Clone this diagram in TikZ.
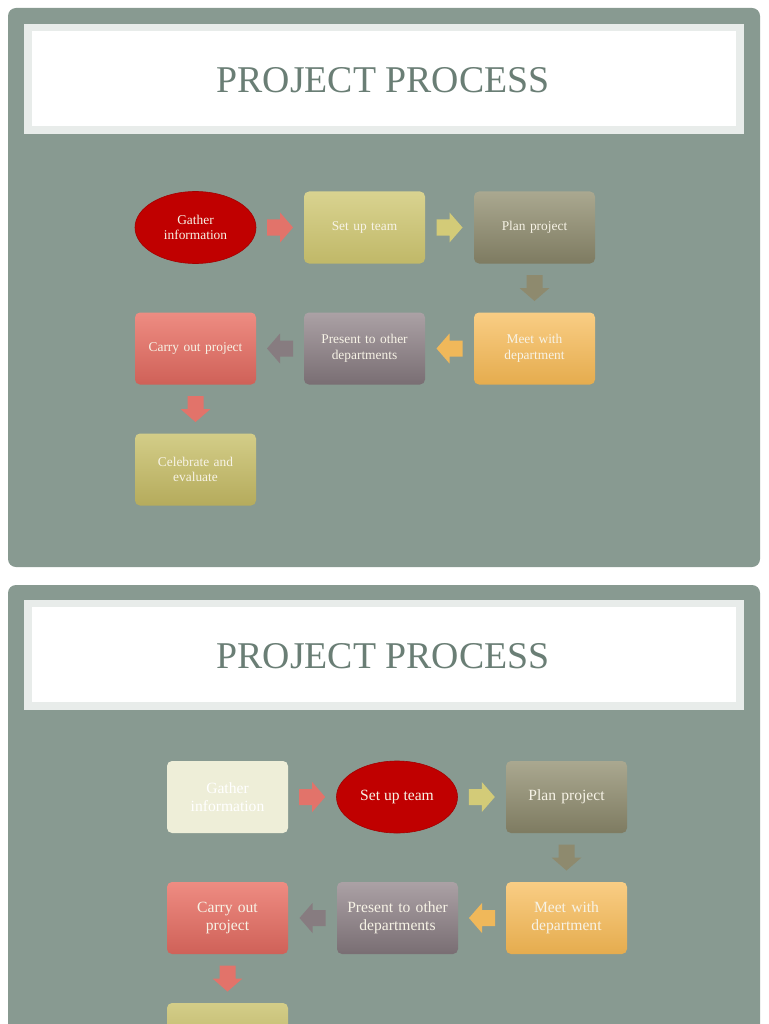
\documentclass[tikz,border=0pt]{standalone}
\usepackage{fontspec}
\setmainfont{Liberation Serif}
\usetikzlibrary{calc,shapes.geometric}
\definecolor{slidebg}{HTML}{889A91}
\definecolor{titleframe}{HTML}{E8ECEA}
\definecolor{titletext}{HTML}{6A7E75}
\definecolor{nodetext}{HTML}{F7F3E6}
\definecolor{dred}{HTML}{C00000}
\definecolor{ygT}{HTML}{D9D390}\definecolor{ygB}{HTML}{C0B868}
\definecolor{plT}{HTML}{AAA890}\definecolor{plB}{HTML}{7E7B61}
\definecolor{meT}{HTML}{F9CD84}\definecolor{meB}{HTML}{E5AC4E}
\definecolor{prT}{HTML}{ABA1A5}\definecolor{prB}{HTML}{796E73}
\definecolor{caT}{HTML}{EE8C82}\definecolor{caB}{HTML}{CF6158}
\definecolor{ceT}{HTML}{D3CD88}\definecolor{ceB}{HTML}{B5AB5C}
\definecolor{pale}{HTML}{EEEED8}
\definecolor{arRed}{HTML}{E2736A}
\definecolor{arYel}{HTML}{D3CB78}
\definecolor{arPlan}{HTML}{8E8A6E}
\definecolor{arOra}{HTML}{F0B85A}
\definecolor{arMau}{HTML}{877C80}
\tikzset{
  box/.style={rectangle, rounded corners=5pt, minimum width=121pt, minimum height=72pt,
    inner sep=0pt, text width=112pt, align=center, text=nodetext},
  oval/.style={ellipse, minimum width=121pt, minimum height=72pt, inner sep=0pt,
    fill=dred, draw=dred!85!black, line width=0.6pt, text=nodetext, align=center},
  smallfont/.style={font=\fontsize{13.4}{15.5}\selectfont},
  bigfont/.style={font=\fontsize{15.6}{18}\selectfont},
  titlefont/.style={font=\fontsize{37.8}{40}\selectfont, text=titletext},
  blockarrow/.pic={\path[pic actions] (-13,-8) -- (0,-8) -- (0,-15) -- (13,0) -- (0,15) -- (0,8) -- (-13,8) -- cycle;}
}
\begin{document}
\begin{tikzpicture}[x=1pt,y=-1pt]
\useasboundingbox (0,0) rectangle (768,1024);
\clip (0,0) rectangle (768,1024);
\fill[white] (0,0) rectangle (768,1024);
% slides
\fill[slidebg, rounded corners=8pt] (8,8) rectangle (760,567);
\fill[slidebg, rounded corners=8pt] (8,585) rectangle (760,1060);
% title boxes
\fill[titleframe] (24,24) rectangle (744,134);
\fill[white] (32,31) rectangle (736,126);
\node[titlefont] (t1) at (383,80) {PROJECT PROCESS};
\fill[titleframe] (24,600) rectangle (744,710);
\fill[white] (32,607) rectangle (736,702);
\node[titlefont] (t2) at (383,656) {PROJECT PROCESS};

% ---- slide 1
\node[oval, smallfont] (g1) at (195.5,227.5) {Gather\\information};
\node[box, smallfont, top color=ygT, bottom color=ygB] (s1) at (364.5,227.5) {Set up team};
\node[box, smallfont, top color=plT, bottom color=plB] (p1) at (534.5,227.5) {Plan project};
\node[box, smallfont, top color=meT, bottom color=meB] (m1) at (534.5,348.5) {Meet with\\department};
\node[box, smallfont, top color=prT, bottom color=prB] (r1) at (364.5,348.5) {Present to other\\departments};
\node[box, smallfont, top color=caT, bottom color=caB] (c1) at (195.5,348.5) {Carry out project};
\node[box, smallfont, top color=ceT, bottom color=ceB] (e1) at (195.5,469.5) {Celebrate and\\evaluate};

\pic[fill=arRed] at ($(g1.east)!0.5!(s1.west)$) {blockarrow};
\pic[fill=arYel] at ($(s1.east)!0.5!(p1.west)$) {blockarrow};
\pic[fill=arPlan, rotate=-90] at ($(p1.south)!0.5!(m1.north)$) {blockarrow};
\pic[fill=arOra, rotate=180] at ($(m1.west)!0.5!(r1.east)$) {blockarrow};
\pic[fill=arMau, rotate=180] at ($(r1.west)!0.5!(c1.east)$) {blockarrow};
\pic[fill=arRed, rotate=-90] at ($(c1.south)!0.5!(e1.north)$) {blockarrow};

% ---- slide 2
\node[box, bigfont, fill=pale, text=white] (g2) at (227.5,797) {Gather\\information};
\node[oval, bigfont] (s2) at (397,797) {Set up team};
\node[box, bigfont, top color=plT, bottom color=plB] (p2) at (566.5,797) {Plan project};
\node[box, bigfont, top color=meT, bottom color=meB] (m2) at (566.5,918) {Meet with\\department};
\node[box, bigfont, top color=prT, bottom color=prB] (r2) at (397.5,918) {Present to other\\departments};
\node[box, bigfont, top color=caT, bottom color=caB] (c2) at (227.5,918) {Carry out\\project};
\node[box, bigfont, top color=ceT, bottom color=ceB] (e2) at (227.5,1039) {};

\pic[fill=arRed] at ($(g2.east)!0.5!(s2.west)$) {blockarrow};
\pic[fill=arYel] at ($(s2.east)!0.5!(p2.west)$) {blockarrow};
\pic[fill=arPlan, rotate=-90] at ($(p2.south)!0.5!(m2.north)$) {blockarrow};
\pic[fill=arOra, rotate=180] at ($(m2.west)!0.5!(r2.east)$) {blockarrow};
\pic[fill=arMau, rotate=180] at ($(r2.west)!0.5!(c2.east)$) {blockarrow};
\pic[fill=arRed, rotate=-90] at ($(c2.south)!0.5!(e2.north)$) {blockarrow};
\end{tikzpicture}
\end{document}
